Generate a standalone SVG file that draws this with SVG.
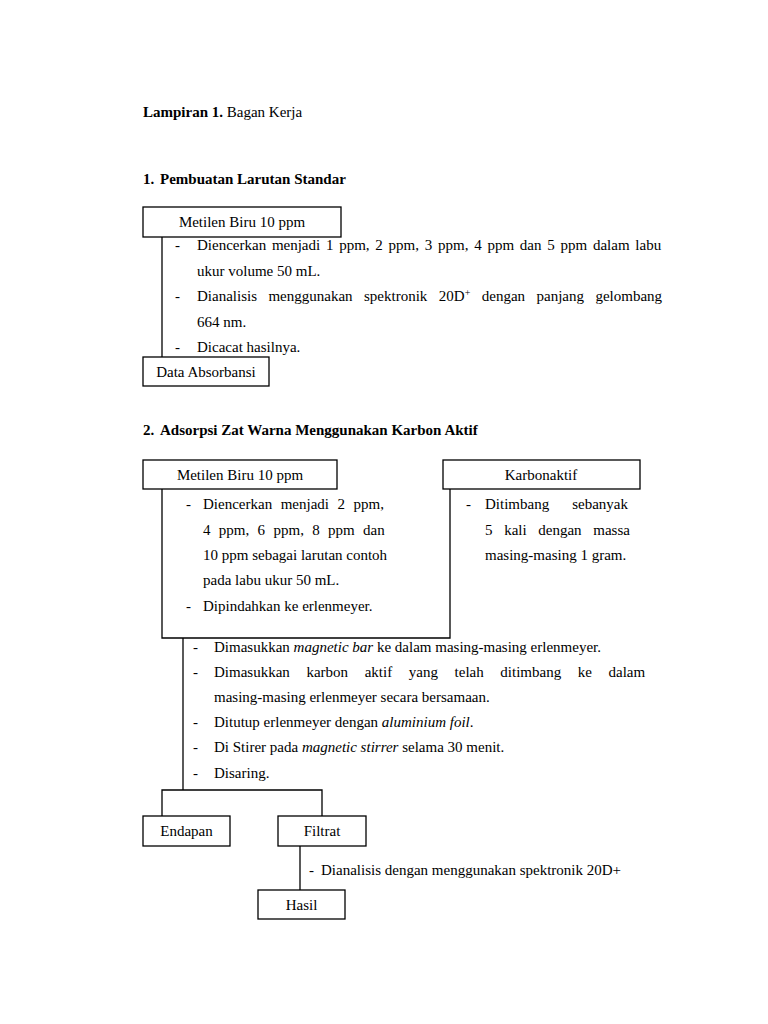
<svg xmlns="http://www.w3.org/2000/svg" width="768" height="1024" viewBox="0 0 768 1024">
<style>
text{font-family:"Liberation Serif","Times New Roman",serif;font-size:15px;fill:#000}
.b{font-weight:bold}
.i{font-style:italic}
.box{fill:#fff;stroke:#000;stroke-width:1.3}
.ln{fill:none;stroke:#000;stroke-width:1.3}
.c{text-anchor:middle}
.sup{font-size:10px}
</style>
<rect width="768" height="1024" fill="#fff"/>
<text x="143" y="117"><tspan class="b">Lampiran 1.</tspan> Bagan Kerja</text>
<text x="143" y="184" class="b">1.<tspan x="160">Pembuatan Larutan Standar</tspan></text>
<text x="143" y="435" class="b">2.<tspan x="160">Adsorpsi Zat Warna Menggunakan Karbon Aktif</tspan></text>

<g id="connectors">
<path class="ln" d="M162,237 V357"/>
<path class="ln" d="M162,489 V638 H450 V489"/>
<path class="ln" d="M183,638 V790"/>
<path class="ln" d="M162,816 V790 H322 V816"/>
<path class="ln" d="M300,846 V890"/>
</g>

<g id="s1-steps">
<text x="175" y="250">-</text>
<text x="197" y="250" style="word-spacing:2px">Diencerkan menjadi 1 ppm, 2 ppm, 3 ppm, 4 ppm dan 5 ppm dalam labu</text>
<text x="197" y="276">ukur volume 50 mL.</text>
<text x="175" y="301">-</text>
<text x="197" y="301" style="word-spacing:7.7px">Dianalisis menggunakan spektronik 20D<tspan class="sup" dy="-5">+</tspan><tspan dy="5"> dengan panjang gelombang</tspan></text>
<text x="197" y="327">664 nm.</text>
<text x="175" y="352">-</text>
<text x="197" y="352">Dicacat hasilnya.</text>
</g>

<g id="n-metilen1"><rect class="box" x="143" y="207" width="198" height="30"/><text class="c" x="242" y="227">Metilen Biru 10 ppm</text></g>
<g id="n-absorbansi"><rect class="box" x="143" y="357" width="126" height="29"/><text class="c" x="206" y="377">Data Absorbansi</text></g>

<g id="n-metilen2"><rect class="box" x="143" y="460" width="194" height="29"/><text class="c" x="240" y="480">Metilen Biru 10 ppm</text></g>
<g id="n-karbon"><rect class="box" x="443" y="460" width="197" height="29"/><text class="c" x="541" y="480">Karbonaktif</text></g>

<g id="s2-left-steps">
<text x="186" y="509">-</text>
<text x="203" y="509" style="word-spacing:4.8px">Diencerkan menjadi 2 ppm,</text>
<text x="203" y="535" style="word-spacing:4.6px">4 ppm, 6 ppm, 8 ppm dan</text>
<text x="203" y="560">10 ppm sebagai larutan contoh</text>
<text x="203" y="585">pada labu ukur 50 mL.</text>
<text x="186" y="611">-</text>
<text x="203" y="611">Dipindahkan ke erlenmeyer.</text>
</g>

<g id="s2-right-steps">
<text x="466" y="509">-</text>
<text x="485" y="509" style="word-spacing:19.3px">Ditimbang sebanyak</text>
<text x="485" y="535" style="word-spacing:7.9px">5 kali dengan massa</text>
<text x="485" y="560">masing-masing 1 gram.</text>
</g>

<g id="s2-steps">
<text x="193" y="652">-</text>
<text x="214" y="652">Dimasukkan <tspan class="i">magnetic bar</tspan> ke dalam masing-masing erlenmeyer.</text>
<text x="193" y="677">-</text>
<text x="214" y="677" style="word-spacing:12.86px">Dimasukkan karbon aktif yang telah ditimbang ke dalam</text>
<text x="214" y="702">masing-masing erlenmeyer secara bersamaan.</text>
<text x="193" y="727">-</text>
<text x="214" y="727">Ditutup erlenmeyer dengan <tspan class="i">aluminium foil</tspan>.</text>
<text x="193" y="752">-</text>
<text x="214" y="752">Di Stirer pada <tspan class="i">magnetic stirrer</tspan> selama 30 menit.</text>
<text x="193" y="778">-</text>
<text x="214" y="778">Disaring.</text>
</g>

<g id="n-endapan"><rect class="box" x="143" y="816" width="87" height="30"/><text class="c" x="186.5" y="836">Endapan</text></g>
<g id="n-filtrat"><rect class="box" x="278" y="816" width="88" height="30"/><text class="c" x="322" y="836">Filtrat</text></g>
<text x="309" y="875">-</text>
<text x="321" y="875">Dianalisis dengan menggunakan spektronik 20D+</text>
<g id="n-hasil"><rect class="box" x="258" y="890" width="87" height="29"/><text class="c" x="301.5" y="910">Hasil</text></g>
</svg>
